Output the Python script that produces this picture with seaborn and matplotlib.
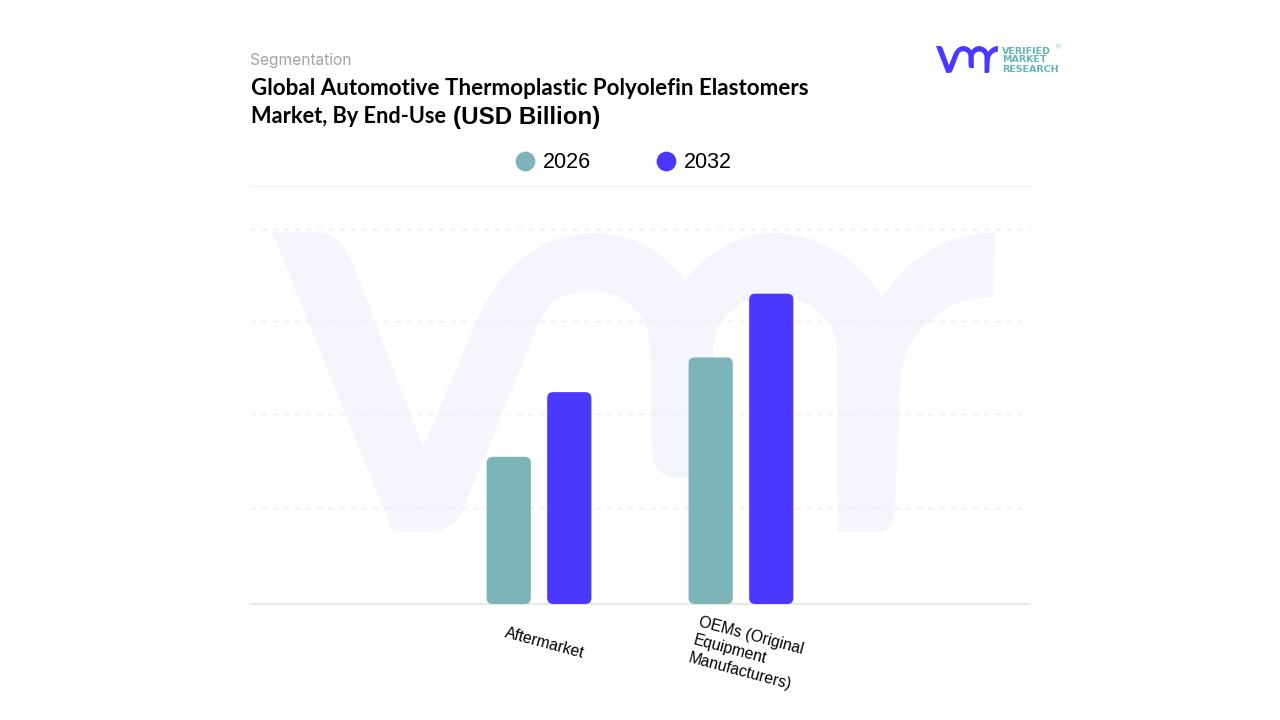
"""Segmentation bars for the end-use split, 2026 vs 2032."""
import matplotlib

matplotlib.use("Agg")
import matplotlib.pyplot as plt
import pandas as pd
import seaborn as sns
from matplotlib.lines import Line2D
from matplotlib.patches import FancyBboxPatch, PathPatch
from matplotlib.path import Path
from matplotlib.transforms import Affine2D, ScaledTranslation

categories = ["Aftermarket", "OEMs (Original\nEquipment\nManufacturers)"]
years = ["2026", "2032"]
values_2026 = [1.57, 2.63]
values_2032 = [2.26, 3.31]
grid_ticks = [1.02, 2.03, 3.02, 4.0]

TEAL = "#7CB4B8"
BLUE = "#4B38FF"
W, H = 1280, 720


def logo_path():
    # vmr outline, traced in reference pixels
    M, L, C = Path.MOVETO, Path.LINETO, Path.CURVE4
    steps = [
        (M, [(272, 232)]),
        (L, [(315, 232)]),
        (C, [(335, 232), (345, 245), (352, 262)]),
        (L, [(423, 447)]),
        (L, [(477, 320)]),
        (C, [(505, 260), (545, 233), (595, 233)]),
        (C, [(630, 233), (662, 250), (685, 280)]),
        (C, [(710, 250), (740, 233), (773, 233)]),
        (C, [(820, 233), (860, 260), (882, 298)]),
        (C, [(905, 260), (945, 233), (995, 233)]),
        (L, [(993, 297)]),
        (C, [(945, 297), (900, 330), (900, 390)]),
        (L, [(895, 505)]),
        (C, [(895, 522), (890, 532), (875, 532)]),
        (L, [(838, 532)]),
        (L, [(837, 350)]),
        (C, [(835, 315), (805, 295), (773, 295)]),
        (C, [(740, 295), (713, 320), (713, 350)]),
        (L, [(713, 478)]),
        (L, [(677, 478)]),
        (C, [(662, 478), (652, 465), (652, 450)]),
        (L, [(650, 345)]),
        (C, [(648, 312), (622, 291), (590, 291)]),
        (C, [(568, 291), (550, 300), (540, 320)]),
        (L, [(463, 510)]),
        (C, [(455, 525), (445, 532), (430, 532)]),
        (L, [(393, 532)]),
        (Path.CLOSEPOLY, [(272, 232)]),
    ]
    verts, codes = [], []
    for code, pts in steps:
        verts += pts
        codes += [code] * len(pts)
    return Path(verts, codes)


df = pd.DataFrame(
    {
        "category": categories * 2,
        "year": [years[0]] * 2 + [years[1]] * 2,
        "value": values_2026 + values_2032,
    }
)

sns.set_theme(style="white")
plt.rcParams["font.family"] = ["Liberation Sans", "DejaVu Sans"]

fig = plt.figure(figsize=(12.8, 7.2), dpi=100, facecolor="white")
ax = fig.add_axes([250 / W, (H - 604) / H, 780 / W, 418 / H])
ax.patch.set_visible(False)

sns.barplot(
    data=df,
    x="category",
    y="value",
    hue="year",
    palette=[TEAL, BLUE],
    saturation=1,
    width=0.6,
    gap=0.27,
    legend=False,
    ax=ax,
)

# swap the plain bars for rounded ones of the same size
for bar in list(ax.patches):
    rounded = FancyBboxPatch(
        (bar.get_x(), bar.get_y()),
        bar.get_width(),
        bar.get_height(),
        boxstyle="round,pad=0,rounding_size=0.03",
        mutation_aspect=202 / 93.75,
        facecolor=bar.get_facecolor(),
        edgecolor="none",
        zorder=3,
    )
    bar.remove()
    ax.add_patch(rounded)

ax.set_xlim(-1.431, 2.431)
ax.set_ylim(0, 418 / 93.75)
ax.set_xlabel("")
ax.set_ylabel("")
ax.set_yticks(grid_ticks)
ax.set_yticklabels([])
ax.tick_params(axis="both", length=0)
ax.yaxis.grid(True, color="#EDEDED", linewidth=1, linestyle=(0, (4, 4)))
ax.set_axisbelow(True)
for side in ("left", "right"):
    ax.spines[side].set_visible(False)
ax.spines["top"].set_color("#F0F0F0")
ax.spines["top"].set_linewidth(1)
ax.spines["bottom"].set_color("#E8E8E8")
ax.spines["bottom"].set_linewidth(1.5)

# x labels sit at different heights, nudge each one
nudges = [(6, -21), (5, -11)]
ax.tick_params(axis="x", pad=0)
for label, (dx, dy) in zip(ax.get_xticklabels(), nudges):
    label.set_rotation(-15)
    label.set_ha("center")
    label.set_va("top")
    label.set_multialignment("left")
    label.set_linespacing(1.3)
    label.set_fontsize(11.3)
    label.set_color("black")
    label.set_transform(
        label.get_transform() + ScaledTranslation(dx / 100, dy / 100, fig.dpi_scale_trans)
    )

handles = [
    Line2D([], [], linestyle="none", marker="o", markersize=13.2, color=c, label=y)
    for c, y in zip([TEAL, BLUE], years)
]
fig.legend(
    handles=handles,
    loc="center",
    bbox_to_anchor=(623 / W, (H - 163) / H),
    ncol=2,
    frameon=False,
    fontsize=15.5,
    handlelength=1,
    handletextpad=0.33,
    columnspacing=3.0,
    labelcolor="black",
)

# watermark + small logo, both from the same outline
to_px = Affine2D().scale(1, -1).translate(0, H)
fig.add_artist(
    PathPatch(logo_path(), facecolor="#F5F6FD", edgecolor="none", zorder=-1, transform=to_px)
)
small = Affine2D().translate(-272, -232).scale(62 / 723, 27 / 301).translate(936, 46)
fig.add_artist(PathPatch(logo_path(), facecolor=BLUE, edgecolor="none", transform=small + to_px))


def px_text(x, y, s, **kw):
    return fig.text(x / W, (H - y) / H, s, **kw)


px_text(250, 61, "Segmentation", family="Inter", fontsize=11.2, color="#A2A2A8", va="center")
title_kw = dict(family="Lato", weight="bold", color="black", va="baseline")
px_text(251, 95, "Global Automotive Thermoplastic Polyolefin Elastomers", fontsize=16.1, **title_kw)
px_text(251, 123, "Market, By End-Use", fontsize=15.7, **title_kw)
px_text(453, 124, "(USD Billion)", family="Liberation Sans", weight="bold", fontsize=17.4,
        color="black", va="baseline")

for y, word in zip([51, 60, 69], ["VERIFIED", "MARKET", "RESEARCH"]):
    px_text(1002, y, word, family="DejaVu Sans", weight="bold", fontsize=6.8, color="#63B5B5",
            va="center")
px_text(1055, 47, "®", family="DejaVu Sans", fontsize=5, color="#9CC9C9", va="center")

fig.savefig("out.png", dpi=100)
plt.close(fig)
